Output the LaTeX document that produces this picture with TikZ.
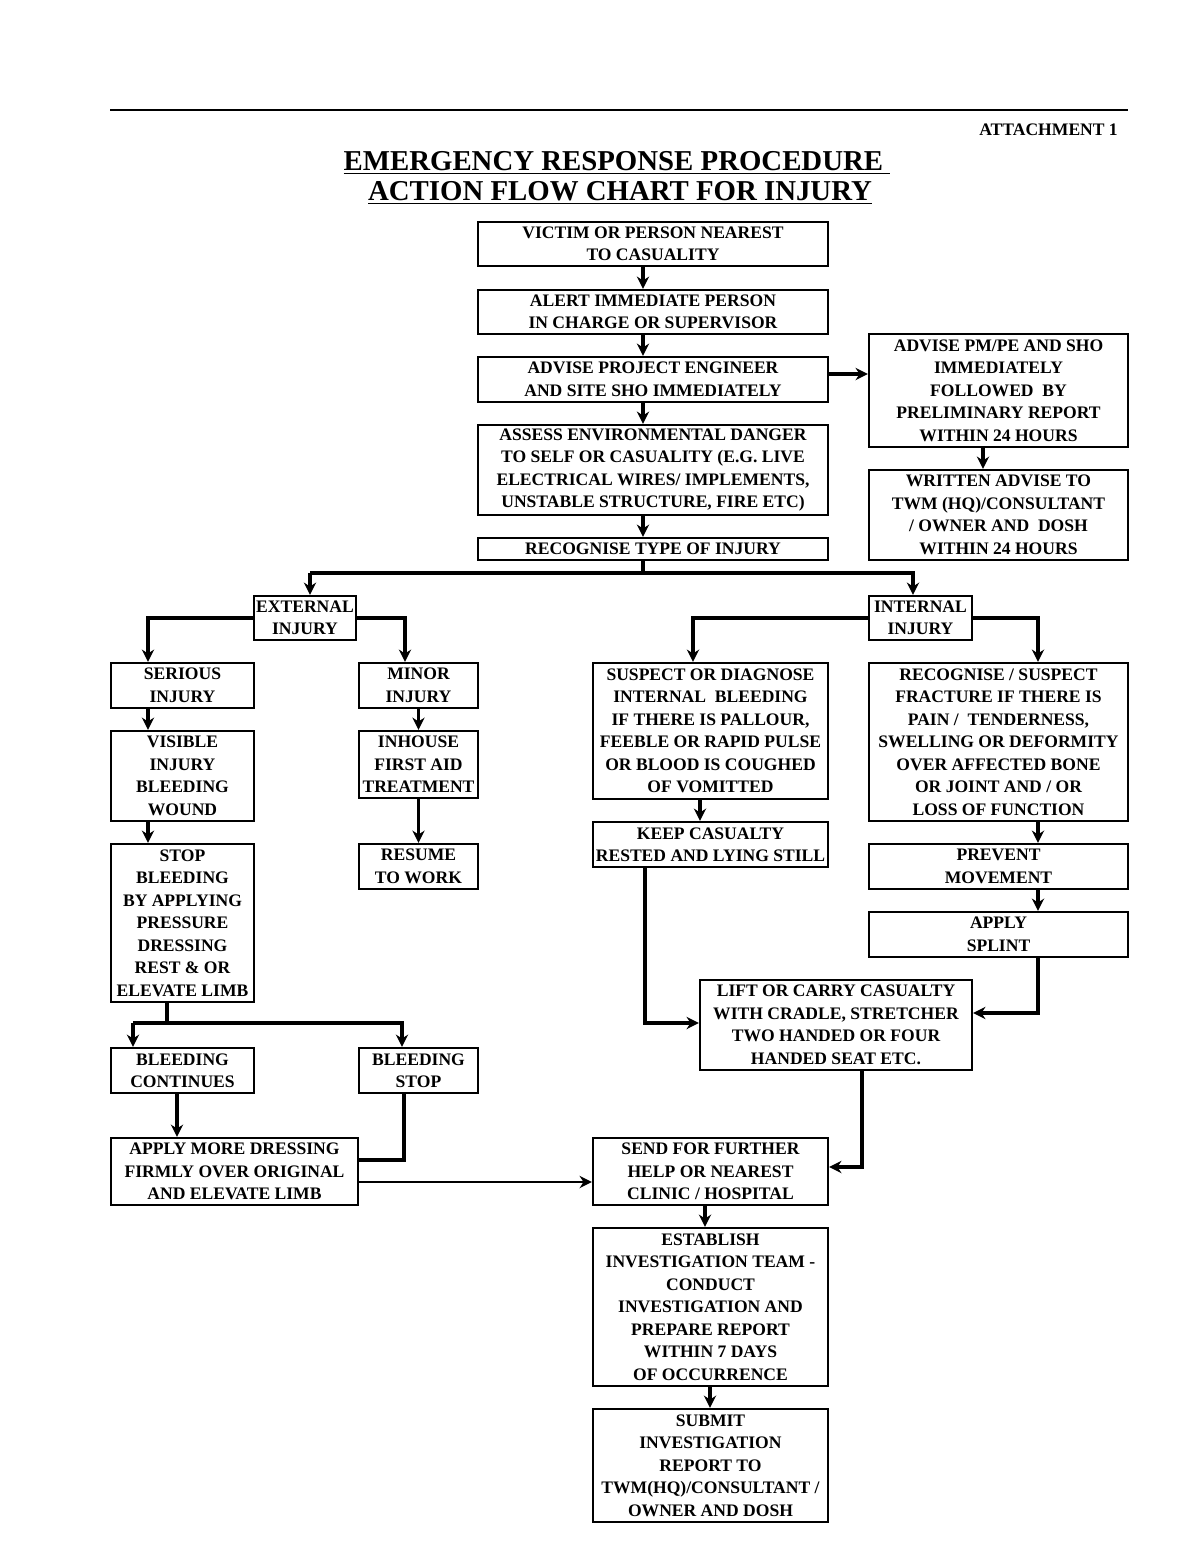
\documentclass[tikz,border=0pt]{standalone}
\usepackage{fontspec}
\setmainfont{Liberation Serif}
\usetikzlibrary{arrows.meta,positioning,calc}
\tikzset{
    box/.style={% framed step of the chart
        draw, line width=1.3pt, rectangle, align=center, inner sep=0pt,
        font=\fontsize{10}{12.8}\selectfont\bfseries},
    link/.style={% thick connector
        line width=1.8pt},
    >={Stealth[length=7pt,width=7pt]}}
% box from its corners (pixels of the page)
\newcommand\flowbox[6]{%
    \pgfmathsetmacro\bw{(#4-#2)*0.02}\pgfmathsetmacro\bh{(#5-#3)*0.02}%
    \node[box, minimum width=\bw cm, minimum height=\bh cm] (#1)
        at ({(#2+#4)/2},{(#3+#5)/2}) {#6};}

\begin{document}
\begin{tikzpicture}[x=0.02cm, y=-0.02cm]
\useasboundingbox (0,0) rectangle (1200,1553);
\draw[line width=1.3pt] (110,110) -- (1128,110);
\node[left, font=\fontsize{10}{11}\selectfont\bfseries] (att) at (1124,130) {ATTACHMENT 1};
\node[font=\fontsize{16.4}{18}\selectfont\bfseries] (title1) at (617,163) {\underline{EMERGENCY RESPONSE PROCEDURE }};
\node[font=\fontsize{16.4}{18}\selectfont\bfseries] (title2) at (620,193) {\underline{ACTION FLOW CHART FOR INJURY}};
% main column
\flowbox{b1}{478}{222}{828}{266}{VICTIM OR PERSON NEAREST\\TO CASUALITY}
\flowbox{b2}{478}{290}{828}{334}{ALERT IMMEDIATE PERSON\\IN CHARGE OR SUPERVISOR}
\flowbox{b3}{478}{357}{828}{402}{ADVISE PROJECT ENGINEER\\AND SITE SHO IMMEDIATELY}
\flowbox{b4}{478}{425}{828}{515}{ASSESS ENVIRONMENTAL DANGER\\TO SELF OR CASUALITY (E.G. LIVE\\ELECTRICAL WIRES/ IMPLEMENTS,\\UNSTABLE STRUCTURE, FIRE ETC)}
\flowbox{b5}{478}{538}{828}{560}{RECOGNISE TYPE OF INJURY}
\flowbox{pm}{869}{334}{1128}{447}{ADVISE PM/PE AND SHO\\IMMEDIATELY\\FOLLOWED \ BY\\PRELIMINARY REPORT\\WITHIN 24 HOURS}
\flowbox{wr}{869}{470}{1128}{560}{WRITTEN ADVISE TO\\TWM (HQ)/CONSULTANT\\/ OWNER AND \ DOSH\\WITHIN 24 HOURS}
% external branch
\flowbox{ext}{254}{596}{356}{640}{EXTERNAL\\INJURY}
\flowbox{ser}{111}{663}{254}{708}{SERIOUS\\INJURY}
\flowbox{vis}{111}{731}{254}{821}{VISIBLE\\INJURY\\BLEEDING\\WOUND}
\flowbox{stop}{111}{844}{254}{1002}{STOP\\BLEEDING\\BY APPLYING\\PRESSURE\\DRESSING\\REST \& OR\\ELEVATE LIMB}
\flowbox{minor}{359}{663}{478}{708}{MINOR\\INJURY}
\flowbox{inh}{359}{731}{478}{798}{INHOUSE\\FIRST AID\\TREATMENT}
\flowbox{res}{359}{844}{478}{889}{RESUME\\TO WORK}
\flowbox{bcont}{111}{1048}{254}{1093}{BLEEDING\\CONTINUES}
\flowbox{bstop}{359}{1048}{478}{1093}{BLEEDING\\STOP}
\flowbox{apply}{111}{1138}{358}{1205}{APPLY MORE DRESSING\\FIRMLY OVER ORIGINAL\\AND ELEVATE LIMB}
% internal branch
\flowbox{int}{869}{596}{972}{640}{INTERNAL\\INJURY}
\flowbox{sus}{593}{663}{828}{799}{SUSPECT OR DIAGNOSE\\INTERNAL \ BLEEDING\\IF THERE IS PALLOUR,\\FEEBLE OR RAPID PULSE\\OR BLOOD IS COUGHED\\OF VOMITTED}
\flowbox{keep}{593}{822}{828}{867}{KEEP CASUALTY\\RESTED AND LYING STILL}
\flowbox{rec}{869}{663}{1128}{821}{RECOGNISE / SUSPECT\\FRACTURE IF THERE IS\\PAIN / \ TENDERNESS,\\SWELLING OR DEFORMITY\\OVER AFFECTED BONE\\OR JOINT AND / OR\\LOSS OF FUNCTION}
\flowbox{prev}{869}{844}{1128}{889}{PREVENT\\MOVEMENT}
\flowbox{spl}{869}{912}{1128}{957}{APPLY\\SPLINT}
\flowbox{lift}{700}{980}{972}{1070}{LIFT OR CARRY CASUALTY\\WITH CRADLE, STRETCHER\\TWO HANDED OR FOUR\\HANDED SEAT ETC.}
% final column
\flowbox{send}{593}{1138}{828}{1205}{SEND FOR FURTHER\\HELP OR NEAREST\\CLINIC / HOSPITAL}
\flowbox{est}{593}{1228}{828}{1386}{ESTABLISH\\INVESTIGATION TEAM -\\CONDUCT\\INVESTIGATION AND\\PREPARE REPORT\\WITHIN 7 DAYS\\OF OCCURRENCE}
\flowbox{sub}{593}{1409}{828}{1522}{SUBMIT\\INVESTIGATION\\REPORT TO\\TWM(HQ)/CONSULTANT /\\OWNER AND DOSH}

\draw[link,->] (b1.south -| 643,0) -- (b2.north -| 643,0);
\draw[link,->] (b2.south -| 643,0) -- (b3.north -| 643,0);
\draw[link,->] (b3.south -| 643,0) -- (b4.north -| 643,0);
\draw[link,->] (b4.south -| 643,0) -- (b5.north -| 643,0);
\draw[link,->] (b3.east |- 0,374) -- (pm.west |- 0,374);
\draw[link,->] (pm.south -| 983,0) -- (wr.north -| 983,0);
\draw[link] (b5.south -| 643,0) -- (643,573);
\draw[link,->] (310,573) -- (ext.north -| 310,0);
\draw[link,->] (310,573) -- (913,573) -- (int.north -| 913,0);
\draw[link,->] (ext.west) -| (ser.north -| 148,0);
\draw[link,->] (ext.east) -| (minor.north -| 405,0);
\draw[link,->] (int.west) -| (sus.north -| 693,0);
\draw[link,->] (int.east) -| (rec.north -| 1038,0);
\draw[link,->] (ser.south -| 148,0) -- (vis.north -| 148,0);
\draw[link,->] (vis.south -| 148,0) -- (stop.north -| 148,0);
\draw[link,->] (inh.north |- minor.south) -- (inh.north);
\draw[link,->] (inh.south) -- (res.north);
\draw[link,->] (sus.south -| 700,0) -- (keep.north -| 700,0);
\draw[link,->] (rec.south -| 1038,0) -- (prev.north -| 1038,0);
\draw[link,->] (prev.south -| 1038,0) -- (spl.north -| 1038,0);
\draw[link,->] (keep.south -| 645,0) |- (lift.west |- 0,1023);
\draw[link,->] (spl.south -| 1038,0) |- (lift.east |- 0,1013);
\draw[link] (stop.south -| 167,0) -- (167,1023);
\draw[link,->] (133,1023) -- (bcont.north -| 133,0);
\draw[link,->] (133,1023) -- (402,1023) -- (bstop.north -| 402,0);
\draw[link,->] (bcont.south -| 177,0) -- (apply.north -| 177,0);
\draw[link] (bstop.south -| 404,0) |- (apply.east |- 0,1160);
\draw[line width=1.1pt,->] (apply.east |- 0,1182) -- (send.west |- 0,1182);
\draw[link,->] (lift.south -| 862,0) |- (send.east |- 0,1167);
\draw[link,->] (send.south -| 705,0) -- (est.north -| 705,0);
\draw[link,->] (est.south -| 710,0) -- (sub.north -| 710,0);
\end{tikzpicture}
\end{document}
